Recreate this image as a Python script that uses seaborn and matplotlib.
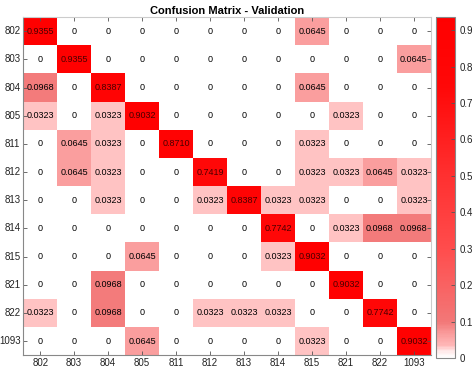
import numpy as np
import pandas as pd
import matplotlib
matplotlib.use('Agg')
import matplotlib.pyplot as plt
import seaborn as sns
from matplotlib.colors import LinearSegmentedColormap

plt.rcParams['font.family'] = ['Liberation Sans', 'DejaVu Sans']

# class labels
classes = ['802', '803', '804', '805', '811', '812', '813', '814', '815', '821', '822', '1093']

# confusion matrix rows (true class)
r802 = [0.9355, 0, 0, 0, 0, 0, 0, 0, 0.0645, 0, 0, 0]
r803 = [0, 0.9355, 0, 0, 0, 0, 0, 0, 0, 0, 0, 0.0645]
r804 = [0.0968, 0, 0.8387, 0, 0, 0, 0, 0, 0.0645, 0, 0, 0]
r805 = [0.0323, 0, 0.0323, 0.9032, 0, 0, 0, 0, 0, 0.0323, 0, 0]
r811 = [0, 0.0645, 0.0323, 0, 0.8710, 0, 0, 0, 0.0323, 0, 0, 0]
r812 = [0, 0.0645, 0.0323, 0, 0, 0.7419, 0, 0, 0.0323, 0.0323, 0.0645, 0.0323]
r813 = [0, 0, 0.0323, 0, 0, 0.0323, 0.8387, 0.0323, 0.0323, 0, 0, 0.0323]
r814 = [0, 0, 0, 0, 0, 0, 0, 0.7742, 0, 0.0323, 0.0968, 0.0968]
r815 = [0, 0, 0, 0.0645, 0, 0, 0, 0.0323, 0.9032, 0, 0, 0]
r821 = [0, 0, 0.0968, 0, 0, 0, 0, 0, 0, 0.9032, 0, 0]
r822 = [0.0323, 0, 0.0968, 0, 0, 0.0323, 0.0323, 0.0323, 0, 0, 0.7742, 0]
r1093 = [0, 0, 0, 0.0645, 0, 0, 0, 0, 0.0323, 0, 0, 0.9032]

rows = [r802, r803, r804, r805, r811, r812, r813, r814, r815, r821, r822, r1093]
cm = pd.DataFrame(rows, index=classes, columns=classes)

# "0" for empty cells, 4 decimals otherwise
labels = cm.map(lambda v: '0' if v == 0 else f'{v:.4f}')

# white -> red, rising fast at the low end
cmap = LinearSegmentedColormap.from_list('wr', [
    (0.0, (1, 1, 1)),
    (0.02, (1, 0.90, 0.90)),
    (0.035, (1, 0.72, 0.72)),
    (0.07, (0.98, 0.61, 0.61)),
    (0.105, (0.95, 0.47, 0.47)),
    (0.32, (1, 0.30, 0.30)),
    (0.55, (1, 0.18, 0.18)),
    (0.80, (1, 0.03, 0.03)),
    (1.0, (1, 0, 0)),
])

fig = plt.figure(figsize=(4.74, 3.81), dpi=100)
ax = fig.add_axes([0.049, 0.068, 0.860, 0.887])
cax = fig.add_axes([0.920, 0.060, 0.040, 0.895])

sns.heatmap(cm, ax=ax, cbar_ax=cax, cmap=cmap, vmin=0, vmax=0.9355,
            annot=labels, fmt='', annot_kws={'fontsize': 6.5, 'color': 'black'})

# darker text on the saturated cells
for t, v in zip(ax.texts, cm.values.ravel()):
    if v > 0.5:
        t.set_color('#4a0000')

ax.set_title('Confusion Matrix - Validation', fontsize=8, fontweight='bold', pad=2)
ax.set_xlabel('')
ax.set_ylabel('')
ax.set_yticklabels(classes, rotation=0)
ax.set_xticklabels(classes, rotation=0)
ax.tick_params(direction='in', top=True, right=True, length=3, width=0.6,
               color='#555555', labelsize=7, labelcolor='#222222', pad=2)
for name, s in ax.spines.items():
    s.set_visible(True)
    s.set_linewidth(0.8)
    s.set_color('#888888' if name in ('left', 'bottom') else '#cccccc')

cbar = ax.collections[0].colorbar
cax.tick_params(direction='in', length=3, width=0.6, color='#555555',
                labelsize=7, labelcolor='#222222', pad=3)
cbar.set_ticks(np.arange(0, 0.95, 0.1))
cbar.set_ticklabels(['0', '0.1', '0.2', '0.3', '0.4', '0.5', '0.6', '0.7', '0.8', '0.9'])
cbar.outline.set_edgecolor('#888888')
cbar.outline.set_linewidth(0.8)
cbar.outline.set_visible(True)

fig.savefig('out.png', dpi=100)
